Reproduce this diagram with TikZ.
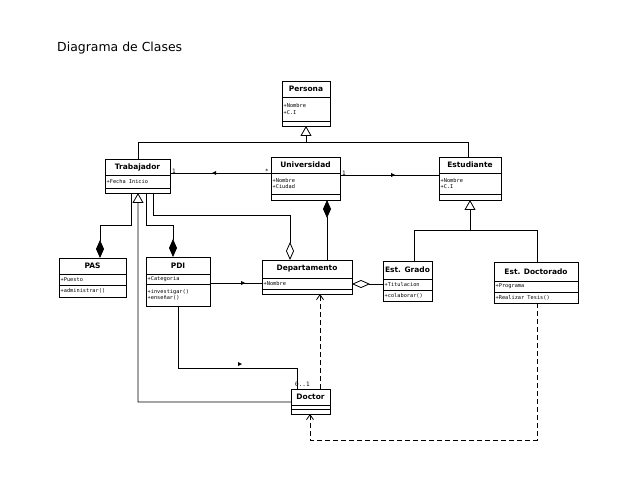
\documentclass[tikz,border=0pt]{standalone}
\usepackage{fontspec}
\setmainfont{DejaVu Sans}
\newfontfamily\monof{DejaVu Sans Mono}
\usetikzlibrary{arrows.meta}
\tikzset{
  cls/.style={draw,line width=1.1pt,anchor=north west,inner sep=0pt,fill=white},
  ln/.style={line width=0.8pt},
  gen/.style={ln,-{Triangle[open,length=10bp,width=11bp]}},
  comp/.style={ln,-{Diamond[length=18bp,width=8bp]}},
  aggr/.style={ln,-{Diamond[open,length=18bp,width=8bp]}},
  dep/.style={ln,dashed,dash pattern=on 5bp off 3bp,-{Straight Barb[length=5bp,width=7bp]}},
  ttl/.style={font=\fontsize{7.5}{8}\selectfont\bfseries,inner sep=0pt},
  att/.style={font=\monof\fontsize{5.3}{6.6}\selectfont,inner sep=0pt,anchor=west,align=left},
  lbl/.style={font=\monof\fontsize{6}{7}\selectfont,inner sep=0pt}
}
% \cls{name}{x}{y}{w}{h}{h1}{h2}{title}{attrs}{ops}
\newcommand{\umlc}[9]{%
  \node[cls,minimum width=#4 bp,minimum height=#5 bp] (#1) at (#2,#3) {};
  \draw[line width=0.8pt] (#2,#3+#6) -- ++(#4,0);
  \draw[line width=0.8pt] (#2,#3+#7) -- ++(#4,0);
  \node[ttl] at (#2+#4/2,#3+#6/2) {#8};
  \node[att] at (#2+1.5,#3+#6/2+#7/2) {#9};
}
\newcommand{\umlops}[4]{\node[att] at (#1+1.5,#2/2+#3/2) {#4};}
\begin{document}
\begin{tikzpicture}[x=1bp,y=-1bp]
\useasboundingbox (0,0) rectangle (638,479);
\node[anchor=west,inner sep=0pt,font=\fontsize{12.5}{14}\selectfont] (title) at (57,48) {Diagrama de Clases};

\umlc{persona}{282}{81}{48}{45}{16}{40}{Persona}{+Nombre\\+C.I}
\umlc{trab}{105}{159}{65}{34}{16}{29}{Trabajador}{+Fecha Inicio}
\umlc{univ}{271}{157}{69}{43}{16}{37}{Universidad}{+Nombre\\+Ciudad}
\umlc{estu}{439}{157}{62}{43}{16}{37}{Estudiante}{+Nombre\\+C.I}
\umlc{pas}{59}{258}{67}{39}{16}{27}{PAS}{+Puesto}
\umlops{59}{285}{297}{+administrar()}
\umlc{pdi}{146}{257}{64}{49}{17}{27}{PDI}{+Categoria}
\umlops{146}{284}{306}{+investigar()\\+enseñar()}
\umlc{dept}{262}{260}{90}{34}{18}{29}{Departamento}{+Nombre}
\umlc{egr}{383}{261}{49}{40}{18}{29}{Est. Grado}{+Titulacion}
\umlops{383}{290}{301}{+colaborar()}
\umlc{edoc}{494}{262}{84}{41}{19}{30}{Est. Doctorado}{+Programa}
\umlops{494}{292}{303}{+Realizar Tesis()}
\umlc{doc}{291}{389}{39}{25}{16}{20}{Doctor}{}

% generalization Persona
\coordinate (g1) at (306,142);
\draw[ln] (138,159) -- (138,142) -- (468,142) -- (468,157);
\draw[gen] (g1) -- (306,126);
% associations Universidad
\draw[ln] (170,173) -- (271,173);
\fill (212,173) -- ++(4,-2) -- ++(0,4) -- cycle;
\node[lbl,anchor=south west] at (172,174) {1};
\node[lbl,anchor=south east] at (269,174) {*};
\draw[ln] (340,175) -- (439,175);
\fill (395,175) -- ++(-4,-2) -- ++(0,4) -- cycle;
\node[lbl,anchor=south west] at (342,176) {1};
% composition Universidad-Departamento
\draw[comp] (327,260) -- (327,200);
% Trabajador children
\draw[comp] (131,193) -- (131,225) -- (100,225) -- (100,258);
\draw[comp] (146,193) -- (146,225) -- (173,225) -- (173,257);
\draw[aggr] (153,193) -- (153,215) -- (290,215) -- (290,260);
\draw[gen] (doc.west) -- (138,402) -- (138,193);
% PDI - Departamento
\draw[ln] (210,283) -- (262,283);
\fill (245,283) -- ++(-4,-2) -- ++(0,4) -- cycle;
% Est Grado - Departamento
\draw[aggr] (383,284) -- (352,284);
% Estudiante generalization
\draw[ln] (414,261) -- (414,230) -- (537,230) -- (537,262);
\draw[gen] (470,230) -- (470,200);
% PDI - Doctor
\draw[ln] (178,306) -- (178,368) -- (297,368) -- (297,389);
\fill (242,364) -- ++(-4,-2) -- ++(0,4) -- cycle;
\node[lbl,anchor=south west] at (295,387) {0..1};
% dependencies
\draw[dep] (320,389) -- (320,294);
\draw[dep] (537,303) -- (537,440) -- (310,440) -- (310,414);
\end{tikzpicture}
\end{document}
